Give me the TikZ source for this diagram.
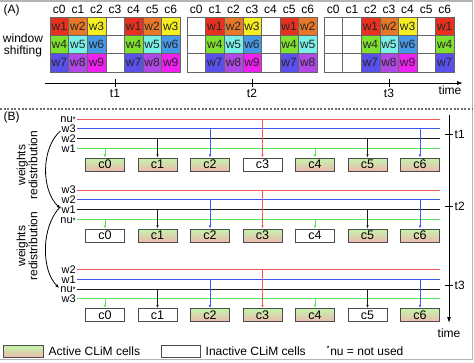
\documentclass[tikz,border=0pt]{standalone}
\usepackage{fontspec}
\setmainfont{Liberation Sans}
\usetikzlibrary{arrows.meta}
\definecolor{wc1}{HTML}{E83020}
\definecolor{wc2}{HTML}{E87828}
\definecolor{wc3}{HTML}{F5EE20}
\definecolor{wc4}{HTML}{80E030}
\definecolor{wc5}{HTML}{78F0E8}
\definecolor{wc6}{HTML}{4898E8}
\definecolor{wc7}{HTML}{5850E8}
\definecolor{wc8}{HTML}{B048E8}
\definecolor{wc9}{HTML}{F020F0}
\definecolor{lc1}{HTML}{F05A5A}
\definecolor{lc2}{HTML}{3C5AF0}
\definecolor{lc3}{HTML}{1E1E1E}
\definecolor{lc4}{HTML}{5AE05A}
\definecolor{acttop}{HTML}{C2F6AA}
\definecolor{actbot}{HTML}{EEB8B0}
\definecolor{frameg}{HTML}{B4B4B4}
\tikzset{
  txt/.style={font=\fontsize{12}{13}\selectfont, inner sep=0.5pt},
  hdr/.style={txt},
  wcell/.style={draw=gray!80!black, line width=0.4pt, minimum width=18.57pt, minimum height=18.4pt, inner sep=0pt, font=\fontsize{12}{12}\selectfont, text=black!85},
  ecell/.style={wcell, fill=white},
  lbl/.style={font=\fontsize{11}{11}\selectfont, inner sep=0pt, anchor=east, text height=7.6pt, text depth=0pt},
  wline/.style={line width=0.9pt},
  cellbox/.style={draw=black!70, line width=0.8pt, minimum width=39pt, minimum height=13pt, inner sep=0pt, font=\fontsize{12.5}{12.5}\selectfont},
  actbox/.style={cellbox, top color=acttop, bottom color=actbot},
  inactbox/.style={cellbox, fill=white},
  warrow/.style={line width=0.7pt, -{Latex[length=3.2pt,width=2.6pt]}},
  taxis/.style={line width=0.9pt, -{Latex[length=6pt,width=4pt]}},
  redis/.style={line width=0.8pt, -{Latex[length=4pt,width=3pt]}},
}
\newcommand\nustar{nu{\fontsize{8}{8}\selectfont *}}
\newcommand\wgrid[3]{%
  \foreach \v [count=\c from 0] in {#3} {
    \pgfmathsetmacro\cx{#2+(\c+0.5)*18.57}
    \node[hdr] (#1h\c) at (\cx,9) {c\c};
    \foreach \r in {1,2,3} {
      \pgfmathsetmacro\cy{16.7+(\r-0.5)*18.4}
      \ifnum\v=0
        \node[ecell] (#1-\c-\r) at (\cx,\cy) {};
      \else
        \pgfmathtruncatemacro\w{(\r-1)*3+\v}
        \node[wcell, fill=wc\w] (#1-\c-\r) at (\cx,\cy) {w\w};
      \fi
    }
  }
}
\newcommand\wgroup[7]{%
  % #1 name, #2 y0, #3-#6 labels, #7 active pattern
  \node[lbl] (#1l1) at (76,#2) {#3};
  \node[lbl] (#1l2) at (76,#2+9.8) {#4};
  \node[lbl] (#1l3) at (76,#2+19.6) {#5};
  \node[lbl] (#1l4) at (76,#2+29.4) {#6};
  \foreach \k in {1,2,3,4} {
    \coordinate (#1e\k) at (440,#2+9.8*\k-9.8);
    \coordinate (#1s\k) at (77,#2+9.8*\k-9.8);
    \draw[wline, lc\k] (#1s\k) -- (#1e\k);
  }
  \foreach \a [count=\c from 0] in {#7} {
    \pgfmathsetmacro\bx{105+52.5*\c}
    \ifnum\a=1
      \node[actbox] (#1b\c) at (\bx,#2+45.5) {c\c};
    \else
      \node[inactbox] (#1b\c) at (\bx,#2+45.5) {c\c};
    \fi
    \pgfmathtruncatemacro\k{4-mod(\c,4)}
    \draw[warrow, lc\k] (#1b\c.north |- #1e\k) -- (#1b\c.north);
  }
}
\begin{document}
\begin{tikzpicture}[x=1pt,y=-1pt]
\useasboundingbox (0,0) rectangle (474,362);
\draw[frameg, line width=1.6pt] (0,0.8) -- (472.6,0.8) -- (472.6,359.6) -- (0,359.6);
% Panel A
\node[txt, anchor=west] (A) at (3,10) {(A)};
\wgrid{ga}{50}{1,2,3,0,1,2,3}
\wgrid{gb}{187}{0,1,2,3,0,1,2}
\wgrid{gc}{324}{0,0,1,2,3,0,1}
\node[txt, align=center] (ws) at (23,45) {window\\[-1pt]shifting};
\coordinate (as) at (45,83);
\coordinate (ae) at (463,83);
\draw[taxis] (as) -- (ae);
\foreach \tx/\tn in {115/1,252/2,389/3} {
  \draw[line width=0.9pt] (\tx,79) -- (\tx,87);
  \node[txt] (at\tn) at (\tx,93) {t\tn};
}
\node[txt] (atime) at (450,90) {time};
\draw[gray!85!black, line width=1.2pt, dash pattern=on 2pt off 1.6pt] (0,109) -- (472,109);
% Panel B
\node[txt, anchor=west] (B) at (3,117) {(B)};
\wgroup{p}{119}{\nustar}{w3}{w2}{w1}{1,1,1,0,1,1,1}
\wgroup{q}{190}{w3}{w2}{w1}{\nustar}{0,1,1,1,0,1,1}
\wgroup{r}{269.5}{w2}{w1}{\nustar}{w3}{0,0,1,1,1,0,1}
% redistribution arrows
\coordinate (r1s) at ([shift={(-1,2)}]pl2.west);
\coordinate (r1e) at ([shift={(-1,-1)}]ql3.west);
\coordinate (r2s) at ([shift={(-1,-3)}]ql3.west);
\coordinate (r2e) at ([shift={(-1,-1)}]rl3.west);
\draw[redis] (r1s) .. controls (41,148) and (41,190) .. (r1e);
\draw[redis] (r2s) .. controls (41,226) and (41,270) .. (r2e);
\node[txt, rotate=90, align=center] (rd1) at (27,165) {weights\\[-1pt]redistribution};
\node[txt, rotate=90, align=center] (rd2) at (27,246) {weights\\[-1pt]redistribution};
% right time axis
\coordinate (bs) at (449,115);
\coordinate (be) at (449,323);
\draw[taxis] (bs) -- (be);
\foreach \ty/\tn in {134/1,206/2,285/3} {
  \draw[line width=0.9pt] (445,\ty) -- (453,\ty);
  \node[txt, anchor=west] (bt\tn) at (454,\ty) {t\tn};
}
\node[txt] (btime) at (449,333) {time};
% legend
\node[actbox, minimum width=40pt, minimum height=12.5pt] (lga) at (23,351.5) {};
\node[txt, anchor=west] (lgat) at (48,351.5) {Active CLiM cells};
\node[inactbox, minimum width=39pt, minimum height=12.5pt] (lgi) at (180.5,351.5) {};
\node[txt, anchor=west] (lgit) at (205,351.5) {Inactive CLiM cells};
\node[txt, anchor=west] (lgn) at (326,350.5) {\textsuperscript{*}nu = not used};
\end{tikzpicture}
\end{document}
